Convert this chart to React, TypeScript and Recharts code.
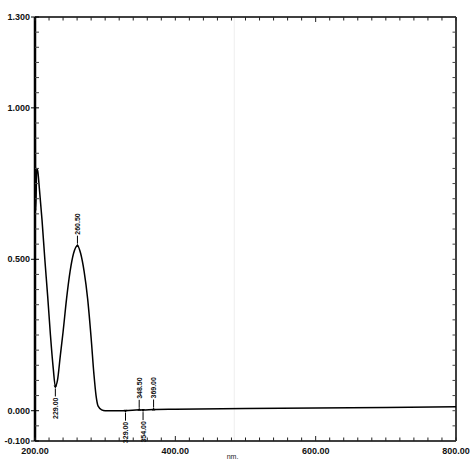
import React from 'react';
import { LineChart, Line, XAxis, YAxis, ReferenceDot, ReferenceLine } from 'recharts';

// Wavelength (nm) and absorbance
const wavelengths = [200, 201, 202.5, 204, 206, 210, 214, 218, 222, 226, 229, 232, 236, 240, 245, 250, 255, 260.5, 265, 270, 275, 280, 284, 287, 290, 295, 300, 329, 348.5, 354, 369, 400, 500, 600, 700, 800];
const absorbance = [1.3, 0.66, 0.8, 0.79, 0.74, 0.63, 0.5, 0.38, 0.25, 0.14, 0.08, 0.1, 0.18, 0.26, 0.37, 0.46, 0.52, 0.545, 0.52, 0.46, 0.37, 0.24, 0.12, 0.05, 0.015, 0.003, 0.0, 0.0, 0.003, 0.002, 0.004, 0.005, 0.007, 0.009, 0.011, 0.013];

// Peak / valley annotations
const peakWavelengths = [260.5, 229, 329, 348.5, 354, 369];
const peakValues = [0.545, 0.08, 0.0, 0.003, 0.002, 0.004];
const peakLabels = ['260.50', '229.00', '329.00', '348.50', '354.00', '369.00'];
const peakSides = ['above', 'below', 'below', 'above', 'below', 'above'];

// Axis ticks
const xLabeledTicks = [200, 400, 600, 800];
const yLabeledTicks = [-0.1, 0, 0.5, 1.0, 1.3];
const xAxisTitle = 'nm.';

const xMinorTicks: number[] = [];
for (let v = 200; v <= 800; v += 20) xMinorTicks.push(v);
const yMinorTicks: number[] = [];
for (let i = -2; i <= 26; i++) yMinorTicks.push(Math.round(i * 5) / 100);

const data = wavelengths.map((w, i) => ({ nm: w, abs: absorbance[i] }));

const FONT = 'Arial, "Liberation Sans", sans-serif';

const isLabeledY = (v: number) => yLabeledTicks.some((t) => Math.abs(t - v) < 1e-6);

const YTick = (props: any) => {
  const { x, y, payload } = props;
  const v = payload.value;
  if (isLabeledY(v)) {
    return (
      <g>
        <line x1={x - 4} x2={x + 4} y1={y} y2={y} stroke="#000" strokeWidth={1} />
        <text x={x - 5} y={y} textAnchor="end" dominantBaseline="central" fontSize={9} fontWeight="bold" fontFamily={FONT} fill="#111">
          {v.toFixed(3)}
        </text>
      </g>
    );
  }
  return <line x1={x} x2={x + 4} y1={y} y2={y} stroke="#444" strokeWidth={1} />;
};

const XTick = (props: any) => {
  const { x, y, payload } = props;
  const v = payload.value;
  const labeled = xLabeledTicks.includes(v);
  return (
    <g>
      <line x1={x} x2={x} y1={y} y2={y - (v === 400 || v === 600 ? 5 : 3.5)} stroke="#222" strokeWidth={1} />
      {labeled && (
        <text x={x} y={y + 10} textAnchor="middle" dominantBaseline="central" fontSize={9} fontWeight="bold" fontFamily={FONT} fill="#111">
          {v.toFixed(2)}
        </text>
      )}
    </g>
  );
};

const TopTick = (props: any) => {
  const { x, y, payload } = props;
  return <line x1={x} x2={x} y1={y} y2={y + (payload.value === 600 ? 5 : 3.5)} stroke="#222" strokeWidth={1} />;
};

const RightTick = (props: any) => {
  const { x, y } = props;
  return <line x1={x} x2={x - 3.5} y1={y} y2={y} stroke="#444" strokeWidth={1} />;
};

const PeakMarker = (props: any) => {
  const { cx, cy, label, side } = props;
  if (cx == null || cy == null) return null;
  const up = side === 'above';
  const tip = up ? cy - 2 : cy + 2;
  const tail = up ? cy - 10 : cy + 10;
  const head = up ? -3 : 3;
  const ty = up ? cy - 11 : cy + 11;
  return (
    <g>
      <line x1={cx} x2={cx} y1={tail} y2={tip} stroke="#000" strokeWidth={1} />
      <path d={`M${cx - 1.8},${tip - head} L${cx + 1.8},${tip - head} L${cx},${tip} Z`} fill="#000" />
      <text
        x={cx}
        y={ty}
        transform={`rotate(-90 ${cx} ${ty})`}
        textAnchor={up ? 'start' : 'end'}
        dominantBaseline="central"
        fontSize={7}
        fontWeight="bold"
        fontFamily={FONT}
        fill="#111"
      >
        {label}
      </text>
    </g>
  );
};

export default function App() {
  return (
    <div style={{ position: 'absolute', left: 0, top: 0, width: 474, height: 474, background: '#fff' }}>
      <LineChart width={474} height={474} data={data} margin={{ top: 16, right: 17, bottom: 0, left: 0 }}>
        <XAxis
          dataKey="nm"
          type="number"
          domain={[200, 800]}
          ticks={xMinorTicks}
          interval={0}
          allowDataOverflow
          height={33}
          tickSize={0}
          tickMargin={0}
          tick={<XTick />}
          axisLine={{ stroke: '#000', strokeWidth: 1.5 }}
          label={{ value: xAxisTitle, position: 'insideBottom', offset: 15, dx: -13, fontSize: 7, fontFamily: FONT, fill: '#222' }}
        />
        <XAxis
          xAxisId="top"
          orientation="top"
          dataKey="nm"
          type="number"
          domain={[200, 800]}
          ticks={xMinorTicks}
          interval={0}
          allowDataOverflow
          height={1}
          tickSize={0}
          tickMargin={0}
          tick={<TopTick />}
          axisLine={{ stroke: '#000', strokeWidth: 1.5 }}
        />
        <YAxis
          type="number"
          domain={[-0.1, 1.3]}
          ticks={yMinorTicks}
          interval={0}
          allowDataOverflow
          width={35}
          tickSize={0}
          tickMargin={0}
          tick={<YTick />}
          axisLine={{ stroke: '#000', strokeWidth: 2.5 }}
        />
        <YAxis
          yAxisId="right"
          orientation="right"
          type="number"
          domain={[-0.1, 1.3]}
          ticks={yMinorTicks}
          interval={0}
          allowDataOverflow
          width={1}
          tickSize={0}
          tickMargin={0}
          tick={<RightTick />}
          axisLine={{ stroke: '#000', strokeWidth: 1.5 }}
        />
        <ReferenceLine x={484} stroke="#eeeeee" strokeWidth={1} />
        <Line
          xAxisId="top"
          yAxisId="right"
          type="monotone"
          dataKey="abs"
          stroke="none"
          dot={false}
          legendType="none"
          isAnimationActive={false}
        />
        <Line
          type="monotone"
          dataKey="abs"
          stroke="#000"
          strokeWidth={1.5}
          dot={false}
          isAnimationActive={false}
        />
        {peakWavelengths.map((w, i) => (
          <ReferenceDot
            key={peakLabels[i]}
            x={w}
            y={peakValues[i]}
            r={0}
            ifOverflow="visible"
            shape={(p: any) => <PeakMarker cx={p.cx} cy={p.cy} label={peakLabels[i]} side={peakSides[i]} />}
          />
        ))}
      </LineChart>
    </div>
  );
}
